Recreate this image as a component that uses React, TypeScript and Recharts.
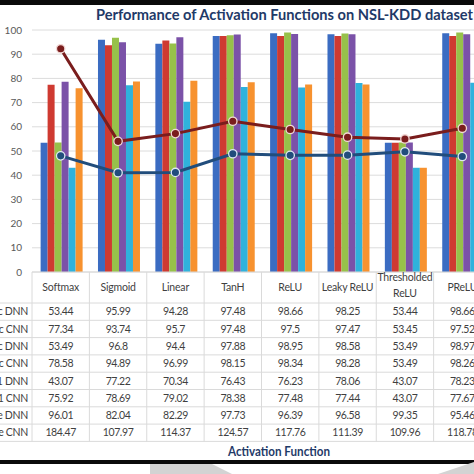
import React from 'react';
import { ComposedChart, Bar, Line, XAxis, YAxis, CartesianGrid } from 'recharts';

// Activation functions compared
const categories = ['Softmax', 'Sigmoid', 'Linear', 'TanH', 'ReLU', 'Leaky ReLU', 'Thresholded ReLU', 'PReLU'];

// Accuracy (%) per activation function
const trainAccDnn = [53.44, 95.99, 94.28, 97.48, 98.66, 98.25, 53.44, 98.66];
const trainAccCnn = [77.34, 93.74, 95.7, 97.48, 97.5, 97.47, 53.45, 97.52];
const testAccDnn = [53.49, 96.8, 94.4, 97.88, 98.95, 98.58, 53.49, 98.97];
const testAccCnn = [78.58, 94.89, 96.99, 98.15, 98.34, 98.28, 53.49, 98.26];
const test21Dnn = [43.07, 77.22, 70.34, 76.43, 76.23, 78.06, 43.07, 78.23];
const test21Cnn = [75.92, 78.69, 79.02, 78.38, 77.48, 77.44, 43.07, 77.67];

// Training time per activation function
const timeDnn = [96.01, 82.04, 82.29, 97.73, 96.39, 96.58, 99.35, 95.46];
const timeCnn = [184.47, 107.97, 114.37, 124.57, 117.76, 111.39, 109.96, 118.78];

const accTicks = [0, 10, 20, 30, 40, 50, 60, 70, 80, 90, 100];

const barSeries = [
  { key: 'trainAccDnn', name: 'Train Acc DNN', values: trainAccDnn, color: '#3b6cc2' },
  { key: 'trainAccCnn', name: 'Train Acc CNN', values: trainAccCnn, color: '#cf3a31' },
  { key: 'testAccDnn', name: 'Test Acc DNN', values: testAccDnn, color: '#97c14a' },
  { key: 'testAccCnn', name: 'Test Acc CNN', values: testAccCnn, color: '#7b52a8' },
  { key: 'test21Dnn', name: 'Test-21 DNN', values: test21Dnn, color: '#2fb2dc' },
  { key: 'test21Cnn', name: 'Test-21 CNN', values: test21Cnn, color: '#f7922f' },
];

const lineSeries = [
  { key: 'timeDnn', name: 'Time DNN', values: timeDnn, color: '#214d7c', ring: '#dfe8f2' },
  { key: 'timeCnn', name: 'Time CNN', values: timeCnn, color: '#7a1d1d', ring: '#f2d9d6' },
];

const tableRows = [...barSeries, ...lineSeries];

const data = categories.map((name, i) => {
  const row: Record<string, string | number> = { name };
  tableRows.forEach((s) => {
    row[s.key] = s.values[i];
  });
  return row;
});

// Layout
const CHART_W = 491;
const CHART_H = 474;
const PLOT_LEFT = 32;
const PLOT_TOP = 30;
const AXIS_H = 202;
const BAND = (CHART_W - PLOT_LEFT) / categories.length;
const HEADER_H = 31;
const ROW_H = 17.3;

const FONT = 'Lato, "Open Sans", sans-serif';
const TEXT_COLOR = '#3f3f3f';
const TABLE_LINE = '#dadada';
const TITLE_COLOR = '#1f3a68';

// Each x-axis tick draws one column of the data table beneath the plot
function TableColumn(props: any) {
  const { x, y, payload, index } = props;
  const label: string = String(payload.value);
  const left = x - BAND / 2;
  const right = x + BAND / 2;
  const bottom = y + HEADER_H + ROW_H * tableRows.length;
  const headerLines = label.length > 11 ? label.split(' ') : [label];

  return (
    <g fontFamily={FONT} fill={TEXT_COLOR}>
      {index === 0 && (
        <g>
          <line x1={PLOT_LEFT} x2={CHART_W} y1={y} y2={y} stroke={TABLE_LINE} />
          {tableRows.map((_, r) => (
            <line
              key={`h${r}`}
              x1={0}
              x2={CHART_W}
              y1={y + HEADER_H + ROW_H * r}
              y2={y + HEADER_H + ROW_H * r}
              stroke={TABLE_LINE}
            />
          ))}
          <line x1={0} x2={CHART_W} y1={bottom} y2={bottom} stroke={TABLE_LINE} />
          {tableRows.map((s, r) => (
            <text
              key={`n${r}`}
              x={PLOT_LEFT - 4}
              y={y + HEADER_H + ROW_H * r + ROW_H / 2}
              dy="0.35em"
              textAnchor="end"
              fontSize={10.5}
              letterSpacing={-0.3}
            >
              {s.name}
            </text>
          ))}
        </g>
      )}
      <line x1={left} x2={left} y1={y} y2={bottom} stroke={TABLE_LINE} />
      {index === categories.length - 1 && (
        <line x1={right} x2={right} y1={y} y2={bottom} stroke={TABLE_LINE} />
      )}
      {headerLines.map((t, k) => (
        <text
          key={`t${k}`}
          x={x}
          y={headerLines.length === 1 ? y + 15 : y + 5 + k * 16}
          dy="0.35em"
          textAnchor="middle"
          fontSize={10.5}
          letterSpacing={-0.2}
        >
          {t}
        </text>
      ))}
      {tableRows.map((s, r) => (
        <text
          key={`v${r}`}
          x={x}
          y={y + HEADER_H + ROW_H * r + ROW_H / 2}
          dy="0.35em"
          textAnchor="middle"
          fontSize={10.5}
          letterSpacing={-0.4}
        >
          {String(s.values[index])}
        </text>
      ))}
    </g>
  );
}

function TimeDot(color: string, ring: string) {
  return (p: any) =>
    p.cx == null ? null : (
      <circle key={`${p.dataKey}-${p.index}`} cx={p.cx} cy={p.cy} r={4.2} fill={color} stroke={ring} strokeWidth={1.3} />
    );
}

export default function App() {
  return (
    <div
      style={{
        position: 'fixed',
        left: 0,
        top: 0,
        width: 474,
        height: 474,
        overflow: 'hidden',
        background: '#ffffff',
      }}
    >
      <ComposedChart
        width={CHART_W}
        height={CHART_H}
        data={data}
        margin={{ top: PLOT_TOP, right: 0, bottom: 0, left: 0 }}
        barCategoryGap="15%"
        barGap={0}
      >
        <CartesianGrid vertical={false} stroke="#dcdcdc" yAxisId="acc" />
        <XAxis
          dataKey="name"
          height={AXIS_H}
          interval={0}
          axisLine={false}
          tickLine={false}
          tickSize={0}
          tickMargin={0}
          tick={TableColumn}
        />
        <YAxis
          yAxisId="acc"
          width={PLOT_LEFT}
          domain={[0, 100]}
          ticks={accTicks}
          axisLine={false}
          tickLine={false}
          tickSize={0}
          tickMargin={10}
          tick={{ fill: '#595959', fontSize: 10, fontFamily: FONT }}
        />
        <YAxis yAxisId="time" orientation="right" hide domain={[0, 200]} />
        {barSeries.map((s) => (
          <Bar key={s.key} yAxisId="acc" dataKey={s.key} name={s.name} fill={s.color} isAnimationActive={false} />
        ))}
        {lineSeries.map((s) => (
          <Line
            key={s.key}
            yAxisId="time"
            dataKey={s.key}
            name={s.name}
            type="linear"
            stroke={s.color}
            strokeWidth={3}
            dot={TimeDot(s.color, s.ring)}
            isAnimationActive={false}
          />
        ))}
      </ComposedChart>
      <svg
        width={474}
        height={474}
        style={{ position: 'absolute', left: 0, top: 0, pointerEvents: 'none' }}
      >
        <rect x={0} y={0} width={474} height={5} fill="#0a0a0a" />
        <text
          x={96}
          y={20}
          fontFamily={FONT}
          fontWeight={700}
          fontSize={15.5}
          fill={TITLE_COLOR}
          textLength={377}
          lengthAdjust="spacingAndGlyphs"
        >
          Performance of Activation Functions on NSL-KDD dataset
        </text>
        <text
          x={279}
          y={456}
          textAnchor="middle"
          fontFamily={FONT}
          fontWeight={700}
          fontSize={13}
          fill={TITLE_COLOR}
          textLength={102}
          lengthAdjust="spacingAndGlyphs"
        >
          Activation Function
        </text>
        <rect x={0} y={460} width={474} height={4} fill="#0a0a0a" />
        <polygon points="150,464 212,464 232,474 150,474" fill="#d3d3d3" />
        <polygon points="438,474 474,462 474,474" fill="#d3d3d3" />
      </svg>
    </div>
  );
}
